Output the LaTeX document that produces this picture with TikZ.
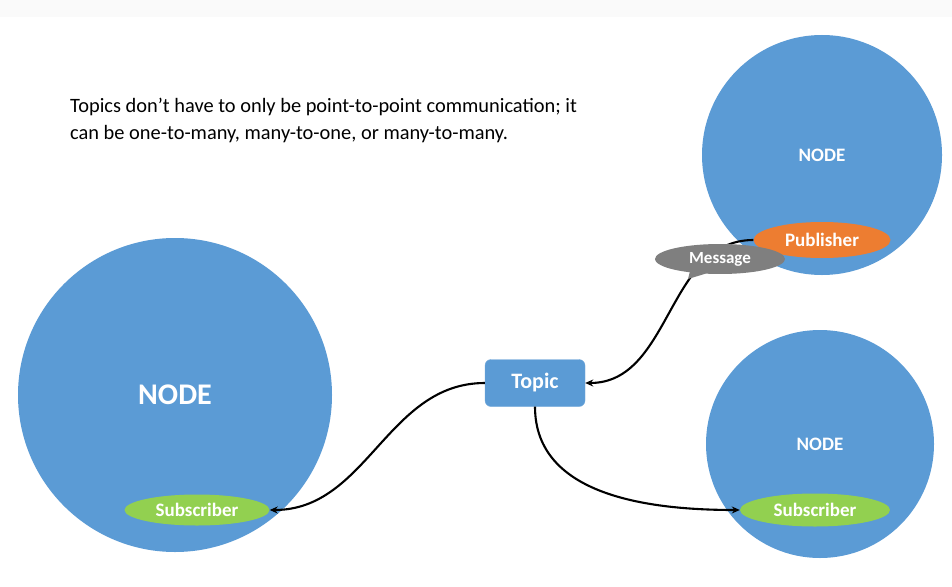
\documentclass[tikz,border=0pt]{standalone}
\usepackage{fontspec}
\setmainfont{Carlito}
\usetikzlibrary{shapes.geometric,shapes.callouts,arrows.meta}
\definecolor{nodeblue}{RGB}{91,155,213}
\definecolor{puborange}{RGB}{237,125,49}
\definecolor{subgreen}{RGB}{146,208,80}
\definecolor{msggray}{RGB}{127,127,127}
\tikzset{
  rosnode/.style={circle,fill=nodeblue,text=white,inner sep=0pt},
  tag/.style={ellipse,text=white,inner sep=0pt,font=\bfseries\fontsize{19}{21}\selectfont},
  link/.style={line width=2.1pt,-{Stealth[length=8pt,width=7pt]}},
}
\begin{document}
\begin{tikzpicture}[x=1pt,y=1pt,yscale=-1,xscale=1]
\useasboundingbox (0,0) rectangle (952,586);
\fill[white] (0,0) rectangle (952,586);
\fill[gray!4] (0,0) rectangle (952,17);

% Text Node
\node (note) [anchor=base west,align=left,inner sep=0pt,font=\fontsize{20.4}{27}\selectfont] at (70,139)
  {Topics don’t have to only be point-to-point communication; it\\can be one-to-many, many-to-one, or many-to-many.};

%Shape: Circle
\node (bignode) [rosnode,minimum size=314pt,font=\bfseries\fontsize{30}{32}\selectfont] at (175,395) {NODE};
%Shape: Circle
\node (pubnode) [rosnode,minimum size=240pt,font=\bfseries\fontsize{19}{21}\selectfont] at (822,155) {NODE};
%Shape: Circle
\node (subnode) [rosnode,minimum size=228pt,font=\bfseries\fontsize{19}{21}\selectfont] at (820,444) {NODE};

%Shape: Ellipse
\node (pub) [tag,fill=puborange,minimum width=137pt,minimum height=36pt] at (822,240) {Publisher};
%Shape: Ellipse
\node (lsub) [tag,fill=subgreen,minimum width=145pt,minimum height=31pt] at (197,510) {Subscriber};
%Shape: Ellipse
\node (rsub) [tag,fill=subgreen,minimum width=150pt,minimum height=33pt] at (815,510) {Subscriber};

%Shape: Rectangle
\node (topic) [rectangle,rounded corners=6pt,fill=nodeblue,draw=nodeblue!85!white,text=white,
  minimum width=100pt,minimum height=47pt,font=\bfseries\fontsize{22}{24}\selectfont] at (535,383) {Topic};

%Curve Lines
\draw [link] (pub.west) to[out=180,in=0] (topic.east);
\draw [link] (topic.west) to[out=180,in=0] (lsub.east);
\draw [link] (topic.south) to[out=90,in=180] (rsub.west);

%Shape: Callout
\node (msg) [ellipse callout,fill=msggray,text=white,inner sep=0pt,minimum width=130pt,minimum height=30pt,
  callout absolute pointer={(688,279)},font=\bfseries\fontsize{17}{19}\selectfont] at (720,259) {Message};

\end{tikzpicture}
\end{document}
